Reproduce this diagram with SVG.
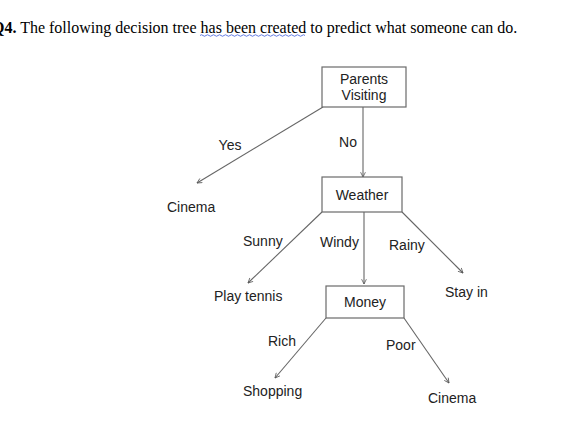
<svg xmlns="http://www.w3.org/2000/svg" width="581" height="439" viewBox="0 0 581 439">
<defs>
<style>
.hdr{font-family:"Liberation Serif",serif;font-size:16px;fill:#000}
.lbl{font-family:"Liberation Sans",Arial,sans-serif;font-size:14px;fill:#222}
.box{fill:#fff;stroke:#6a6a6a;stroke-width:1.2}
.edge{stroke:#666;stroke-width:1.1;fill:none;marker-end:url(#arr)}
</style>
<marker id="arr" viewBox="0 0 10 10" refX="9" refY="5" markerWidth="6" markerHeight="6" orient="auto" markerUnits="userSpaceOnUse">
<path d="M1,1 L9,5 L1,9" fill="none" stroke="#555" stroke-width="1.3"/>
</marker>
</defs>
<rect width="581" height="439" fill="#fff"/>
<g id="header">
<text class="hdr" x="-8" y="33"><tspan font-weight="bold">Q4.</tspan> The following decision tree has been created to predict what someone can do.</text>
<path d="M200,35.5 q1.5,-1.5 3,0 t3,0 t3,0 t3,0 t3,0 t3,0 t3,0 t3,0 t3,0 t3,0 t3,0 t3,0 t3,0 t3,0 t3,0 t3,0 t3,0 t3,0 t3,0 t3,0 t3,0 t3,0 t3,0 t3,0 t3,0 t3,0 t3,0 t3,0 t3,0 t3,0 t3,0 t3,0 t3,0 t3,0 t3,0" fill="none" stroke="#3b5bdb" stroke-width="0.8"/>
</g>
<g id="connectors">
<line class="edge" x1="323" y1="107" x2="197" y2="183"/>
<line class="edge" x1="363" y1="107" x2="363" y2="177"/>
<line class="edge" x1="322" y1="212" x2="248" y2="283"/>
<line class="edge" x1="364" y1="212" x2="364" y2="284"/>
<line class="edge" x1="402" y1="212" x2="463" y2="273"/>
<line class="edge" x1="326" y1="318" x2="275" y2="378"/>
<line class="edge" x1="404" y1="318" x2="449" y2="383"/>
</g>
<g id="edge-labels">
<text class="lbl" x="230" y="150" text-anchor="middle">Yes</text>
<text class="lbl" x="348" y="147" text-anchor="middle">No</text>
<text class="lbl" x="243" y="246">Sunny</text>
<text class="lbl" x="320" y="247">Windy</text>
<text class="lbl" x="389" y="250">Rainy</text>
<text class="lbl" x="268" y="346">Rich</text>
<text class="lbl" x="386" y="350">Poor</text>
</g>
<g id="node-parents">
<rect class="box" x="322" y="67" width="84" height="40"/>
<text class="lbl" x="364" y="84" text-anchor="middle">Parents</text>
<text class="lbl" x="364" y="100" text-anchor="middle">Visiting</text>
</g>
<g id="node-weather">
<rect class="box" x="322" y="177" width="80" height="35"/>
<text class="lbl" x="362" y="200" text-anchor="middle">Weather</text>
</g>
<g id="node-money">
<rect class="box" x="326" y="286" width="78" height="32"/>
<text class="lbl" x="365" y="307" text-anchor="middle">Money</text>
</g>
<g id="leaf-cinema1"><text class="lbl" x="167" y="212">Cinema</text></g>
<g id="leaf-playtennis"><text class="lbl" x="214" y="301">Play tennis</text></g>
<g id="leaf-stayin"><text class="lbl" x="445" y="297">Stay in</text></g>
<g id="leaf-shopping"><text class="lbl" x="243" y="396">Shopping</text></g>
<g id="leaf-cinema2"><text class="lbl" x="428" y="403">Cinema</text></g>
</svg>
